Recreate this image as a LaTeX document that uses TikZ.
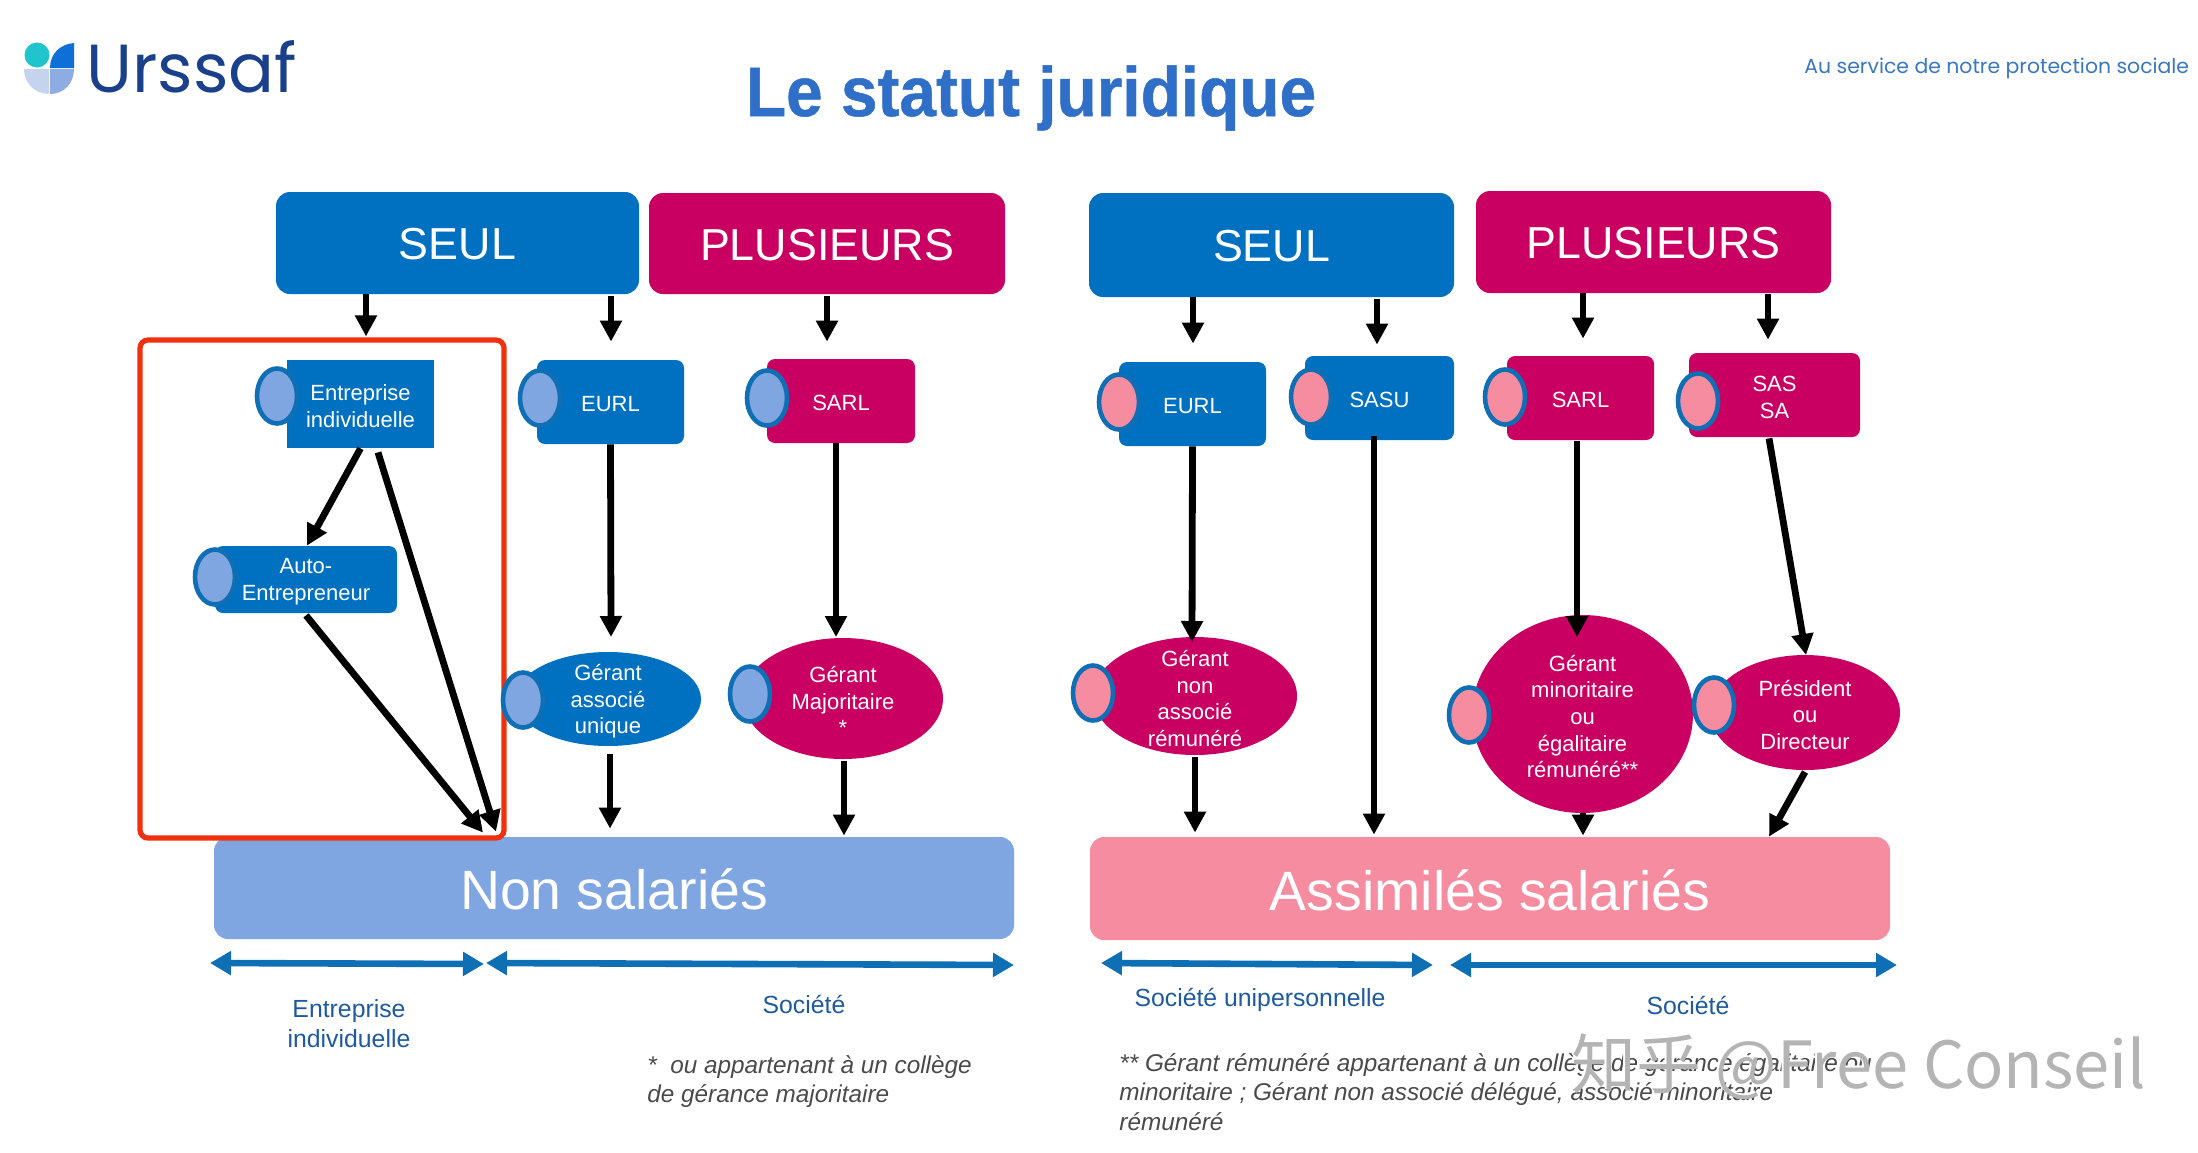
\documentclass[tikz,border=0pt]{standalone}
\usepackage{fontspec}
\setmainfont{Liberation Sans}
\newfontfamily\popp{Poppins}
\newfontfamily\titlef[FakeStretch=0.94,BoldFeatures={FakeBold=0.7}]{Liberation Sans}
\newfontfamily\cjkf{Noto Sans CJK SC}
\usetikzlibrary{shapes.geometric,arrows.meta}
\definecolor{bl}{HTML}{0070C0}
\definecolor{mg}{HTML}{C90062}
\definecolor{lbl}{HTML}{7FA6E0}
\definecolor{lpk}{HTML}{F68CA0}
\definecolor{ring}{HTML}{0F6FB5}
\definecolor{redc}{HTML}{F0300F}
\definecolor{titlec}{HTML}{2F6FC8}
\definecolor{capc}{HTML}{1F5A9E}
\definecolor{notec}{HTML}{4A4A4A}
\definecolor{wm}{HTML}{B4B4B4}
\definecolor{logot}{HTML}{1FC4CC}
\definecolor{logob}{HTML}{0E6FD6}
\definecolor{logol}{HTML}{C5D3EE}
\definecolor{logom}{HTML}{8CACE3}
\definecolor{logon}{HTML}{1A3F8B}
\definecolor{topc}{HTML}{3A78BE}
\tikzset{
  headbox/.style={rounded corners=7pt,draw=none,inner sep=0},
  headtxt/.style={text=white,inner sep=0,yshift=-.7pt,font=\fontsize{22.4}{26}\selectfont},
  rbox/.style={rounded corners=4pt,draw=none,inner sep=0},
  bigbox/.style={rounded corners=7pt,draw=none,inner sep=0},
  bigtxt/.style={text=white,inner sep=0,yshift=-.7pt,font=\fontsize{27.7}{32}\selectfont},
  ell/.style={ellipse,draw=none,inner sep=0,outer sep=0},
  etxt/.style={text=white,align=center,inner sep=0,yshift=-1.2pt,font=\fontsize{11}{13.3}\selectfont},
  ovb/.style={ellipse,draw=ring,fill=lbl,line width=2.3pt,minimum width=20pt,minimum height=27.5pt,inner sep=0},
  ovp/.style={ellipse,draw=ring,fill=lpk,line width=2.3pt,minimum width=20pt,minimum height=27.5pt,inner sep=0},
  conn/.style={line width=3.4pt,-{Triangle[length=10.5pt,width=10.5pt]},black},
  spanarrow/.style={line width=3.3pt,{Triangle[length=10.5pt,width=11.5pt]}-{Triangle[length=10.5pt,width=11.5pt]},ring},
  caplab/.style={text=capc,align=center,inner sep=0,font=\fontsize{12.4}{15}\selectfont},
  notelab/.style={text=notec,align=left,anchor=north west,inner sep=0,font=\fontsize{12.15}{14.7}\selectfont\itshape},
}
\begin{document}
\begin{tikzpicture}[x=.5pt,y=-.5pt]
\useasboundingbox (0,0) rectangle (2198,1152);
\fill[white] (0,0) rectangle (2198,1152);
% logo
\fill[logot] (37,55) circle[radius=12.5];
\fill[logob] (74,43) .. controls (60,44) and (50,54) .. (50,68) -- (74,68) -- cycle;
\fill[logol] (24,69) -- (49,69) -- (49,94) .. controls (35,94) and (24,83) .. (24,69) -- cycle;
\fill[logom] (50,69) -- (74,69) .. controls (74,83) and (64,94) .. (50,94) -- cycle;
\node[anchor=base west,inner sep=0,text=logon,font=\popp\fontsize{34}{40}\selectfont] (urssaf) at (86,92) {Urssaf};
% title
\node[inner sep=0,text=titlec,font=\titlef\bfseries\fontsize{35}{40}\selectfont,anchor=base] (title) at (1031,116) {Le statut juridique};
\node[anchor=base west,inner sep=0,text=topc,font=\popp\fontsize{10.2}{12}\selectfont] (tagline) at (1804,73) {Au service de notre protection sociale};
% big result boxes
\node[bigbox,fill=lbl,minimum width=400pt,minimum height=51pt,label={[bigtxt]center:{Non salariés}}] (ns) at (614,888) {};
\node[bigbox,fill=lpk,minimum width=400pt,minimum height=51.5pt,label={[bigtxt]center:{Assimilés salariés}}] (as) at (1490,888.5) {};
% red frame
\node[draw=redc,line width=2.6pt,rounded corners=4pt,minimum width=182pt,minimum height=249pt,inner sep=0] (rb) at (322,589) {};
% header boxes
\node[headbox,fill=bl,minimum width=181.5pt,minimum height=51pt,label={[headtxt]center:SEUL}] (s1) at (457.5,243) {};
\node[headbox,fill=mg,minimum width=178pt,minimum height=50.5pt,label={[headtxt]center:PLUSIEURS}] (p1) at (827,243.5) {};
\node[headbox,fill=bl,minimum width=182.5pt,minimum height=52pt,label={[headtxt]center:SEUL}] (s2) at (1271.5,245) {};
\node[headbox,fill=mg,minimum width=177.5pt,minimum height=51pt,label={[headtxt]center:PLUSIEURS}] (p2) at (1653.5,242) {};
% status boxes
\node[rbox,fill=bl,rounded corners=0pt,minimum width=73.5pt,minimum height=44pt,label={[etxt]center:{Entreprise\\individuelle}}] (ei) at (360.5,404) {};
\node[ovb] (oei) at (277,396) {};
\node[rbox,fill=bl,minimum width=91pt,minimum height=33.5pt,label={[etxt]center:{Auto-\\Entrepreneur}}] (auto) at (306,579.5) {};
\node[ovb] (oauto) at (215,577) {};
\node[rbox,fill=bl,minimum width=73.5pt,minimum height=42pt,label={[etxt]center:EURL}] (e1) at (610.5,402) {};
\node[ovb] (oe1) at (540,398) {};
\node[rbox,fill=mg,minimum width=74pt,minimum height=42pt,label={[etxt]center:SARL}] (sa1) at (841,401) {};
\node[ovb] (osa1) at (767,398) {};
\node[rbox,fill=bl,minimum width=73.5pt,minimum height=42pt,label={[etxt]center:EURL}] (e2) at (1192.5,404) {};
\node[ovp] (oe2) at (1119,402) {};
\node[rbox,fill=bl,minimum width=74.5pt,minimum height=42pt,label={[etxt]center:SASU}] (sasu) at (1379.5,398) {};
\node[ovp] (osasu) at (1311,397) {};
\node[rbox,fill=mg,minimum width=73.5pt,minimum height=42pt,label={[etxt]center:SARL}] (sa2) at (1580.5,398) {};
\node[ovp] (osa2) at (1505,397) {};
\node[rbox,fill=mg,minimum width=85.5pt,minimum height=42pt,label={[etxt]center:{SAS\\SA}}] (sas) at (1774.5,395) {};
\node[ovp] (osas) at (1698,401) {};
% ellipses
\node[ell,fill=bl,minimum width=93pt,minimum height=47pt,label={[etxt]center:{Gérant\\associé\\unique}}] (gau) at (608,699) {};
\node[ovb] (ogau) at (523,700) {};
\node[ell,fill=mg,minimum width=100pt,minimum height=60.5pt,label={[etxt]center:{Gérant\\Majoritaire\\*}}] (gma) at (843,698.5) {};
\node[ovb] (ogma) at (750,694) {};
\node[ell,fill=mg,minimum width=102pt,minimum height=59pt,label={[etxt]center:{Gérant\\non\\associé\\rémunéré}}] (gna) at (1195,696) {};
\node[ovp] (ogna) at (1093,693) {};
\node[ell,fill=mg,minimum width=110.5pt,minimum height=99pt,label={[etxt]center:{Gérant\\minoritaire\\ou\\égalitaire\\rémunéré**}}] (gmi) at (1582.5,714) {};
\node[ovp] (ogmi) at (1469,715) {};
\node[ell,fill=mg,minimum width=95pt,minimum height=57.5pt,label={[etxt]center:{Président\\ou\\Directeur}}] (pre) at (1805,712.5) {};
\node[ovp] (opre) at (1714,705) {};
% connectors
\draw[conn] ([shift={(-91.5,0)}]s1.south) -- ([shift={(44,-1)}]rb.north);
\draw[conn] ([shift={(153.5,2)}]s1.south) -- ([shift={(.5,-18)}]e1.north);
\draw[conn] ([shift={(0,2)}]p1.south) -- ([shift={(-14,-17)}]sa1.north);
\draw[conn] ([shift={(-78.5,0)}]s2.south) -- ([shift={(.5,-18)}]e2.north);
\draw[conn] ([shift={(105.5,2)}]s2.south) -- ([shift={(-2.5,-11)}]sasu.north);
\draw[conn] ([shift={(-70.5,0)}]p2.south) -- ([shift={(2.5,-17)}]sa2.north);
\draw[conn] ([shift={(114.5,1)}]p2.south) -- ([shift={(-6.5,-13)}]sas.north);
\draw[conn] (ei.south) -- ([shift={(1,0)}]auto.north);
\draw[conn] ([shift={(17.5,4)}]ei.south) -- ([shift={(-118,-5)}]ns.north);
\draw[conn] ([shift={(0,2)}]auto.south) -- ([shift={(-131,-4)}]ns.north);
\draw[conn] (e1.south) -- ([shift={(3,-15)}]gau.north);
\draw[conn] ([shift={(2,8)}]gau.south) -- ([shift={(-4,-8)}]ns.north);
\draw[conn] ([shift={(-5,0)}]sa1.south) -- ([shift={(-7,-1)}]gma.north);
\draw[conn] ([shift={(1,2)}]gma.south) -- ([shift={(230,-1)}]ns.north);
\draw[conn] (e2.south) -- ([shift={(-3,5)}]gna.north);
\draw[conn] ([shift={(0,2)}]gna.south) -- ([shift={(-295,-4)}]as.north);
\draw[conn] ([shift={(-5.5,-4)}]sasu.south) -- ([shift={(-116,-2)}]as.north);
\draw[conn] ([shift={(-3.5,1)}]sa2.south) -- ([shift={(-5.5,22)}]gmi.north);
\draw[conn] ([shift={(.5,0)}]gmi.south) -- ([shift={(93,-1)}]as.north);
\draw[conn] ([shift={(-5.5,1)}]sas.south) -- ([shift={(1,0)}]pre.north);
\draw[conn] ([shift={(0,2)}]pre.south) -- ([shift={(279,0)}]as.north);
% span arrows
\coordinate (a1l) at (210,963);
\coordinate (a1r) at (484,964);
\coordinate (a2l) at (486,963);
\coordinate (a2r) at (1014,965);
\coordinate (a3l) at (1101,963);
\coordinate (a3r) at (1433,965);
\coordinate (a4l) at (1450,965);
\coordinate (a4r) at (1897,965);
\draw[spanarrow] (a1l) -- (a1r);
\draw[spanarrow] (a2l) -- (a2r);
\draw[spanarrow] (a3l) -- (a3r);
\draw[spanarrow] (a4l) -- (a4r);
% captions
\node[caplab] (c1) at (349,1024) {Entreprise\\individuelle};
\node[caplab] (c2) at (804,1004) {Société};
\node[caplab] (c3) at (1260,1000) {Société unipersonnelle};
\node[caplab] (c4) at (1688,1005) {Société};
\node[notelab] (n1) at (647,1055) {*\ \ ou appartenant à un collège\\de gérance majoritaire};
\node[notelab] (n2) at (1119,1053) {** Gérant rémunéré appartenant à un collège de gérance égalitaire ou\\minoritaire ; Gérant non associé délégué, associé minoritaire\\rémunéré};
% watermark
\node[anchor=base west,inner sep=0,text=white,font=\cjkf\fontsize{32.5}{34}\selectfont] (wms) at (1569,1086) {知乎 @Free Conseil};
\node[anchor=base west,inner sep=0,text=wm,font=\cjkf\fontsize{32.5}{34}\selectfont] (wmt) at (1571,1088) {知乎 @Free Conseil};
\end{tikzpicture}
\end{document}
